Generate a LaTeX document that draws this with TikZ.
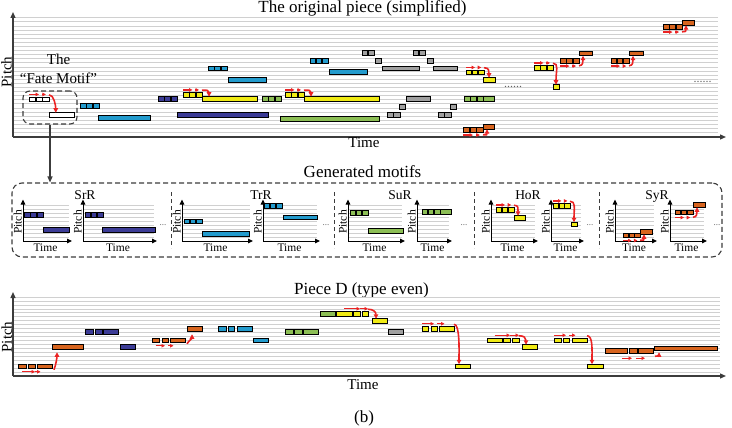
\documentclass[tikz,border=0pt]{standalone}
\usepackage{fontspec}
\setmainfont{Liberation Serif}
\usetikzlibrary{arrows.meta}
\definecolor{cyanN}{RGB}{35,155,205}
\definecolor{navyN}{RGB}{60,60,150}
\definecolor{yelN}{RGB}{240,235,20}
\definecolor{grnN}{RGB}{140,190,85}
\definecolor{gryN}{RGB}{160,160,160}
\definecolor{orgN}{RGB}{215,100,30}
\definecolor{redA}{RGB}{235,35,35}
\definecolor{gridC}{RGB}{208,208,208}
\definecolor{axisC}{RGB}{60,60,60}
% note: name, colour, x1, x2, y-centre
\newcommand\nt[5]{\pgfmathsetmacro\ntw{#4-#3}\pgfmathsetmacro\ntx{(#3+#4)/2}%
  \node[note,fill=#2,minimum width=\ntw pt] (#1) at (\ntx,#5) {};}
% three equal squares: prefix, colour, x1, x2, y-centre
\newcommand\tri[5]{\pgfmathsetmacro\tw{(#4-#3-1.4)/3}%
  \pgfmathsetmacro\txa{#3+\tw/2}\pgfmathsetmacro\txb{#3+1.5*\tw+0.7}\pgfmathsetmacro\txc{#3+2.5*\tw+1.4}%
  \node[note,fill=#2,minimum width=\tw pt] (#1a) at (\txa,#5) {};
  \node[note,fill=#2,minimum width=\tw pt] (#1b) at (\txb,#5) {};
  \node[note,fill=#2,minimum width=\tw pt] (#1c) at (\txc,#5) {};}
\newcommand\arrup[1]{\draw[redarr] ([yshift=2.8]#1a.north west) -- ([yshift=2.8]#1b.north);
  \draw[redarr] ([yshift=2.8]#1b.north east) -- ([yshift=2.8]#1c.north);}
\newcommand\arrdn[1]{\draw[redarr] ([yshift=-2.8]#1a.south west) -- ([yshift=-2.8]#1b.south);
  \draw[redarr] ([yshift=-2.8]#1b.south east) -- ([yshift=-2.8]#1c.south);}
\newcommand\dncurve[2]{\draw[bigarr] (#1) .. controls +(5,0) and +(0,-7) .. (#2);}
\newcommand\longdn[2]{\draw[bigarr] (#1) .. controls +(6,0) and +(0,-14) .. (#2);}
\newcommand\upcurve[2]{\draw[bigarr] (#1) .. controls +(4,0) and +(0,6) .. (#2);}
% mini panel: prefix, x0, x1
\newcommand\mini[3]{%
  \foreach \k in {0,...,8}{\draw[gridln] (#2,{205+4*\k}) -- ({#3-3},{205+4*\k});}
  \draw[axs] (#2,241) -- (#2,199.5);
  \draw[axs] (#2,241) -- (#3,241);
  \node[mlbl,rotate=90] (#1p) at ({#2-1.5},222) {Pitch};
  \node[mlbl] (#1t) at ({(#2+#3)/2-2},251.5) {Time};}
\begin{document}
\begin{tikzpicture}[x=1pt,y=-1pt,
  note/.style={draw=black,line width=0.7pt,inner sep=0pt,outer sep=0pt,minimum height=4.5pt,rectangle},
  gridln/.style={draw=gridC,line width=0.7pt},
  bigaxis/.style={draw=axisC,line width=1.3pt,-{Triangle[length=6pt,width=5pt]}},
  axs/.style={draw=black,line width=1pt,-{Triangle[length=5pt,width=4.5pt]}},
  redarr/.style={draw=redA,line width=1.2pt,-{Triangle[length=3.5pt,width=3.5pt]}},
  bigarr/.style={draw=redA,line width=1.6pt,-{Triangle[length=4.5pt,width=4.5pt]}},
  ttl/.style={font=\fontsize{17}{20}\selectfont,inner sep=0pt,anchor=base},
  lbl/.style={font=\fontsize{15}{18}\selectfont,inner sep=0pt,anchor=base},
  sub/.style={font=\fontsize{13.5}{16}\selectfont,inner sep=0pt,anchor=base},
  mlbl/.style={font=\fontsize{11.5}{13}\selectfont,inner sep=0pt,anchor=base},
  dotsty/.style={font=\fontsize{12}{12}\selectfont,text=axisC!80,inner sep=0pt,anchor=base},
  mdots/.style={font=\fontsize{9}{9}\selectfont,text=axisC!80,inner sep=0pt,anchor=base},
  dbox/.style={draw=axisC,line width=1.1pt,dash pattern=on 5pt off 3pt,rounded corners=7pt,inner sep=0pt},
  sepln/.style={draw=axisC,line width=1pt,dash pattern=on 4pt off 3pt},
  conn/.style={draw=axisC,line width=1.1pt,-{Triangle[length=6pt,width=5pt]}}
]
\useasboundingbox (0,0) rectangle (732,428);
%================ TOP PANEL =================
\foreach \k in {0,...,28}{\draw[gridln] (13,{17.7+4.1*\k}) -- (718,{17.7+4.1*\k});}
\draw[bigaxis] (13,137) -- (13,12);
\draw[bigaxis] (13,137) -- (726,137);
\node[ttl] (t1) at (362.5,13) {The original piece (simplified)};
\node[lbl,rotate=90] (p1) at (11.7,72) {Pitch};
\node[lbl] (x1) at (364,148) {Time};
\node[lbl] (fate1) at (58.5,65) {The};
\node[lbl] (fate2) at (58.5,83.5) {``Fate Motif''};
% fate motif
\node[dbox,minimum width=54pt,minimum height=33pt] (fbox) at (50,107.5) {};
\tri{fa}{white}{29}{49}{99.5}
\nt{fb}{white}{49.5}{74}{115}
\arrup{fa}
\dncurve{[yshift=2.5]fac.north east}{[xshift=-6]fb.north}
% cyan / navy / yellow
\tri{ca}{cyanN}{80}{99}{106}
\nt{cb}{cyanN}{98}{150}{118}
\tri{na}{navyN}{158}{177}{99}
\nt{nb}{navyN}{177}{268}{115}
\tri{ya}{yelN}{183}{202}{95}
\nt{yb}{yelN}{202}{257}{99}
\arrup{ya}
\dncurve{[yshift=2.5]yac.north east}{[xshift=7]yb.north west}
\tri{cc}{cyanN}{208}{227}{68.5}
\nt{cd}{cyanN}{228}{266}{80}
\tri{ga}{grnN}{262}{281}{99}
\nt{gb}{grnN}{280}{379}{119}
\tri{yc}{yelN}{285}{304}{95}
\nt{yd}{yelN}{304}{379}{99}
\arrup{yc}
\dncurve{[yshift=2.5]ycc.north east}{[xshift=7]yd.north west}
\tri{ce}{cyanN}{310}{328}{61}
\nt{cf}{cyanN}{329}{367}{72}
% gray groups
\nt{ra1}{gryN}{362}{367.7}{53}
\nt{ra2}{gryN}{368.3}{374}{53}
\nt{ra3}{gryN}{375}{381}{61}
\nt{ra4}{gryN}{382}{419}{68.5}
\nt{rb1}{gryN}{413}{418.7}{53}
\nt{rb2}{gryN}{419.3}{425}{53}
\nt{rb3}{gryN}{427}{433}{61}
\nt{rb4}{gryN}{433.5}{457}{68.5}
\nt{rc1}{gryN}{387}{393.2}{115}
\nt{rc2}{gryN}{393.8}{400}{115}
\nt{rc3}{gryN}{399}{405}{107}
\nt{rc4}{gryN}{406}{430}{99}
\nt{rd1}{gryN}{438}{444.2}{115}
\nt{rd2}{gryN}{444.8}{451}{115}
\nt{rd3}{gryN}{450}{456}{107}
% right part
\tri{ye}{yelN}{466}{484}{72.5}
\nt{yf}{yelN}{483}{495}{80}
\arrup{ye}
\dncurve{[yshift=2.5]yec.north east}{[xshift=6]yf.north west}
\tri{gc}{grnN}{464}{483}{99}
\nt{gd}{grnN}{483}{494}{99}
\tri{oa}{orgN}{463}{483}{130}
\nt{ob}{orgN}{483}{494}{127}
\arrdn{oa}
\upcurve{[yshift=-2.5]oac.south east}{[xshift=4]ob.south west}
\node[dotsty] (d1) at (513,87.5) {......};
\tri{yg}{yelN}{534}{553}{68}
\nt{yh}{yelN}{553}{559}{87}
\arrup{yg}
\longdn{[yshift=2.5]ygc.north east}{yh.north}
\tri{oc}{orgN}{560}{579}{61}
\nt{od}{orgN}{579}{592}{53.5}
\arrdn{oc}
\upcurve{[yshift=-2.5]occ.south east}{[xshift=4]od.south west}
\tri{oe}{orgN}{611}{629}{61}
\nt{of}{orgN}{629}{643}{53.5}
\arrdn{oe}
\upcurve{[yshift=-2.5]oec.south east}{[xshift=4]of.south west}
\tri{og}{orgN}{663}{682}{27}
\nt{oh}{orgN}{682}{694}{23}
\arrdn{og}
\upcurve{[yshift=-2.5]ogc.south east}{[xshift=4]oh.south west}
\node[dotsty] (d2) at (702.5,82.5) {......};
%================ MIDDLE =================
\node[ttl] (t2) at (362.5,177.3) {Generated motifs};
\node[dbox,rounded corners=10pt,minimum width=710pt,minimum height=74pt] (gbox) at (367,220) {};
\draw[conn] (fbox.south) -- (fbox.south |- gbox.north);
\draw[sepln] (171,192) -- (171,248);
\draw[sepln] (334,192) -- (334,248);
\draw[sepln] (474,192) -- (474,248);
\draw[sepln] (599,192) -- (599,248);
\node[sub] (l1) at (85,199) {SrR};
\node[sub] (l2) at (261,199) {TrR};
\node[sub] (l3) at (400,199) {SuR};
\node[sub] (l4) at (528,199) {HoR};
\node[sub] (l5) at (657,199) {SyR};
\mini{m1}{23}{72}
\mini{m2}{83}{157}
\mini{m3}{182}{253}
\mini{m4}{263}{320}
\mini{m5}{348}{405}
\mini{m6}{417}{452}
\mini{m7}{491}{538}
\mini{m8}{551}{584}
\mini{m9}{615}{657}
\mini{m10}{670}{707}
\node[mdots] (e1) at (163,225.5) {...};
\node[mdots] (e2) at (326,225.5) {...};
\node[mdots] (e3) at (464,225.5) {...};
\node[mdots] (e4) at (590,225.5) {...};
\node[mdots] (e5) at (717,225.5) {...};
\tri{s1}{navyN}{24}{43}{215}
\nt{s1d}{navyN}{43}{69}{230}
\tri{s2}{navyN}{85}{103}{215}
\nt{s2d}{navyN}{102}{155}{230}
\tri{s3}{cyanN}{184}{202}{221.5}
\nt{s3d}{cyanN}{202}{249}{234}
\tri{s4}{cyanN}{264}{282}{206}
\nt{s4d}{cyanN}{283}{317}{217.5}
\tri{s5}{grnN}{350}{368}{213}
\nt{s5d}{grnN}{368}{403}{231}
\tri{s6}{grnN}{422}{440}{212}
\nt{s6d}{grnN}{440}{451}{212}
\tri{s7}{yelN}{496}{514}{210}
\nt{s7d}{yelN}{514}{525}{218}
\arrup{s7}
\dncurve{[yshift=2.5]s7c.north east}{[xshift=4]s7d.north west}
\tri{s8}{yelN}{553}{570}{206}
\nt{s8d}{yelN}{571}{577}{224.5}
\arrup{s8}
\longdn{[yshift=2.5]s8c.north east}{s8d.north}
\tri{s9}{orgN}{623}{640}{235.5}
\nt{s9d}{orgN}{640}{652}{232}
\arrdn{s9}
\upcurve{[yshift=-2.5]s9c.south east}{[xshift=4]s9d.south west}
\tri{s10}{orgN}{675}{693}{212.5}
\nt{s10d}{orgN}{693}{705}{205}
\arrdn{s10}
\upcurve{[yshift=-2.5]s10c.south east}{[xshift=4]s10d.south west}
%================ BOTTOM =================
\node[ttl] (t3) at (361.5,294) {Piece D (type even)};
\foreach \k in {0,...,19}{\draw[gridln] (13,{297+3.95*\k}) -- (720,{297+3.95*\k});}
\draw[bigaxis] (13,376) -- (13,292);
\draw[bigaxis] (13,376) -- (726,376);
\node[lbl,rotate=90] (p3) at (12,337) {Pitch};
\node[lbl] (x3) at (363,389) {Time};
\node[ttl] (cap) at (364,422.5) {(b)};
\nt{da1}{orgN}{18}{26}{366.5}
\nt{da2}{orgN}{28}{35}{366.5}
\nt{da3}{orgN}{37}{52}{366.5}
\draw[redarr] ([yshift=-3]da1.south) -- ([yshift=-3]da2.south east);
\draw[redarr] ([yshift=-3]da2.south east) -- ([xshift=-4,yshift=-3]da3.south);
\nt{db}{orgN}{52}{83}{347}
\draw[bigarr] ([xshift=2,yshift=-1]da3.south east) .. controls +(2,-5) and +(0,5) .. ([xshift=5,yshift=-3]db.south west);
\nt{dc1}{navyN}{85}{93}{332}
\nt{dc2}{navyN}{95}{102}{332}
\nt{dc3}{navyN}{103}{118}{332}
\nt{dd}{navyN}{120}{135}{347}
\nt{de1}{orgN}{152}{159}{340.5}
\nt{de2}{orgN}{162}{168}{340.5}
\nt{de3}{orgN}{170}{185}{340.5}
\draw[redarr] ([yshift=-3]de1.south) -- ([yshift=-3]de2.south);
\draw[redarr] ([yshift=-3]de2.south east) -- ([xshift=-4,yshift=-3]de3.south);
\nt{df}{orgN}{187}{202}{329}
\draw[bigarr] ([xshift=2,yshift=-1]de3.south east) .. controls +(2,-3) and +(0,4) .. ([xshift=5,yshift=-3]df.south west);
\nt{dg1}{cyanN}{218}{226}{329}
\nt{dg2}{cyanN}{228}{234}{329}
\nt{dg3}{cyanN}{237}{252}{329}
\nt{dh}{cyanN}{253}{268}{340.5}
\nt{di1}{grnN}{285}{293}{332}
\nt{di2}{grnN}{294}{302}{332}
\nt{di3}{grnN}{303}{318}{332}
\nt{dj}{grnN}{320}{335}{314}
\nt{dk1}{yelN}{336}{352}{314}
\nt{dk2}{yelN}{353}{360}{314}
\nt{dk3}{yelN}{362}{368}{314}
\draw[redarr] ([yshift=3]dk1.north) -- ([yshift=3]dk2.north east);
\draw[redarr] ([yshift=3]dk2.north east) -- ([yshift=3]dk3.north east);
\nt{dl}{yelN}{372}{387}{321}
\dncurve{[yshift=2.5]dk3.north east}{[xshift=4]dl.north west}
\nt{dm}{gryN}{388}{403}{332}
\nt{dn1}{yelN}{422}{428}{329}
\nt{dn2}{yelN}{431}{437}{329}
\nt{dn3}{yelN}{439}{454}{329}
\draw[redarr] ([yshift=3]dn1.north west) -- ([yshift=3]dn2.north);
\draw[redarr] ([yshift=3]dn2.north east) -- ([xshift=-2,yshift=3]dn3.north);
\nt{do}{yelN}{455}{470}{366.5}
\longdn{[yshift=2.5]dn3.north east}{[xshift=4]do.north west}
\nt{dp1}{yelN}{487}{502}{340.5}
\nt{dp2}{yelN}{503}{510}{340.5}
\nt{dp3}{yelN}{512}{519}{340.5}
\draw[redarr] ([yshift=3]dp1.north) -- ([yshift=3]dp2.north east);
\draw[redarr] ([yshift=3]dp2.north east) -- ([yshift=3]dp3.north east);
\nt{dq}{yelN}{522}{537}{347}
\dncurve{[yshift=2.5]dp3.north east}{[xshift=4]dq.north west}
\nt{dr1}{yelN}{554}{561}{340.5}
\nt{dr2}{yelN}{563}{569}{340.5}
\nt{dr3}{yelN}{572}{587}{340.5}
\draw[redarr] ([yshift=3]dr1.north west) -- ([yshift=3]dr2.north);
\draw[redarr] ([yshift=3]dr2.north east) -- ([xshift=-4,yshift=3]dr3.north);
\nt{ds}{yelN}{587}{603}{366.5}
\longdn{[yshift=2.5]dr3.north east}{[xshift=5]ds.north west}
\nt{dt1}{orgN}{605}{627}{351}
\nt{dt2}{orgN}{629}{637}{351}
\nt{dt3}{orgN}{638}{653}{351}
\draw[redarr] ([xshift=-5,yshift=-5]dt1.south east) -- ([xshift=-5,yshift=-5]dt2.south east);
\draw[redarr] ([xshift=-2,yshift=-5]dt3.south west) -- ([xshift=-8,yshift=-5]dt3.south east);
\nt{du}{orgN}{654}{717}{348.5}
\draw[bigarr] ([xshift=2,yshift=-3]dt3.south east) .. controls +(3,-1) and +(0,4) .. ([xshift=5,yshift=-1.5]du.south west);
\end{tikzpicture}
\end{document}
